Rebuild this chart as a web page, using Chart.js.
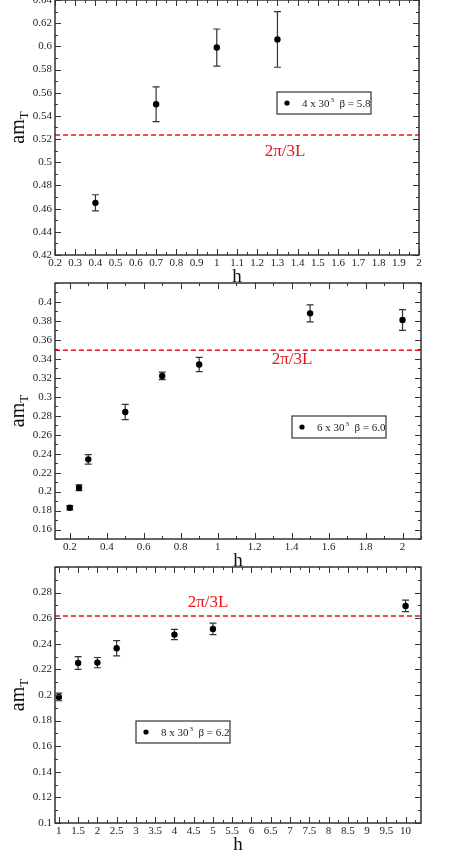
<!DOCTYPE html>
<html>
<head>
<meta charset="utf-8">
<script src="https://cdn.jsdelivr.net/npm/chart.js@4/dist/chart.umd.min.js"></script>
<style>
  body { margin: 0; background: #fff; width: 474px; height: 867px; overflow: hidden; position: relative; }
  canvas { position: absolute; left: 0; }
</style>
</head>
<body>
<canvas id="c1"></canvas>
<canvas id="c2"></canvas>
<canvas id="c3"></canvas>
<script>
// panel 1: 4 x 30^3, beta = 5.8
const h1 = [0.4, 0.7, 1.0, 1.3];
const am1 = [0.465, 0.550, 0.599, 0.606];
const err1 = [0.007, 0.015, 0.016, 0.024];
// panel 2: 6 x 30^3, beta = 6.0
const h2 = [0.2, 0.25, 0.3, 0.5, 0.7, 0.9, 1.5, 2.0];
const am2 = [0.183, 0.204, 0.234, 0.284, 0.322, 0.334, 0.388, 0.381];
const err2 = [0.0023, 0.003, 0.005, 0.008, 0.004, 0.0075, 0.009, 0.011];
// panel 3: 8 x 30^3, beta = 6.2
const h3 = [1, 1.5, 2, 2.5, 4, 5, 10];
const am3 = [0.1985, 0.225, 0.2253, 0.2365, 0.2472, 0.2516, 0.2696];
const err3 = [0.003, 0.005, 0.004, 0.006, 0.004, 0.0045, 0.0045];

// 2pi/3L lines
const limits = [0.5236, 0.3491, 0.2618];
const latticeLabels = ['4 x 30', '6 x 30', '8 x 30'];
const betaLabels = ['\u03b2 = 5.8', '\u03b2 = 6.0', '\u03b2 = 6.2'];

// tick labels
const xTicks1 = [0.2, 0.3, 0.4, 0.5, 0.6, 0.7, 0.8, 0.9, 1, 1.1, 1.2, 1.3, 1.4, 1.5, 1.6, 1.7, 1.8, 1.9, 2];
const yTicks1 = [0.42, 0.44, 0.46, 0.48, 0.5, 0.52, 0.54, 0.56, 0.58, 0.6, 0.62, 0.64];
const xTicks2 = [0.2, 0.4, 0.6, 0.8, 1, 1.2, 1.4, 1.6, 1.8, 2];
const yTicks2 = [0.16, 0.18, 0.2, 0.22, 0.24, 0.26, 0.28, 0.3, 0.32, 0.34, 0.36, 0.38, 0.4];
const xTicks3 = [1, 1.5, 2, 2.5, 3, 3.5, 4, 4.5, 5, 5.5, 6, 6.5, 7, 7.5, 8, 8.5, 9, 9.5, 10];
const yTicks3 = [0.1, 0.12, 0.14, 0.16, 0.18, 0.2, 0.22, 0.24, 0.26, 0.28];

const SERIF = '"Liberation Serif", "DejaVu Serif", serif';
const INK = '#333';

const panels = [
  { id: 'c1', top: -20, plotH: 255, right: 419, xMin: 0.2, xMax: 2, yMin: 0.42, yMax: 0.64,
    xTicks: xTicks1, yTicks: yTicks1, xMinor: 0.05, yMinor: 0.01,
    h: h1, am: am1, err: err1, limit: limits[0], lattice: latticeLabels[0], beta: betaLabels[0],
    leg: { x: 222, y: 92 }, lab: { x: 230, y: 152 } },
  { id: 'c2', top: 263, plotH: 256, right: 421, xMin: 0.12, xMax: 2.1, yMin: 0.15, yMax: 0.42,
    xTicks: xTicks2, yTicks: yTicks2, xMinor: 0.1, yMinor: 0.01,
    h: h2, am: am2, err: err2, limit: limits[1], lattice: latticeLabels[1], beta: betaLabels[1],
    leg: { x: 237, y: 133 }, lab: { x: 237, y: 77 } },
  { id: 'c3', top: 547, plotH: 256, right: 421, xMin: 0.9, xMax: 10.4, yMin: 0.1, yMax: 0.3,
    xTicks: xTicks3, yTicks: yTicks3, xMinor: 0.25, yMinor: 0.01,
    h: h3, am: am3, err: err3, limit: limits[2], lattice: latticeLabels[2], beta: betaLabels[2],
    leg: { x: 81, y: 154 }, lab: { x: 153, y: 36 } }
];

function minorValues(min, max, step) {
  const out = [];
  for (let i = Math.ceil(min / step - 1e-9); i * step <= max + 1e-9; i++) out.push(i * step);
  return out;
}

// error bars under the points
const errorBars = {
  id: 'errorBars',
  beforeDatasetsDraw(chart) {
    const p = chart.options.panel;
    const { ctx, scales: { x, y } } = chart;
    ctx.save();
    ctx.strokeStyle = INK;
    ctx.lineWidth = 1.2;
    p.h.forEach((hv, i) => {
      const px = x.getPixelForValue(hv);
      const lo = y.getPixelForValue(p.am[i] - p.err[i]);
      const hi = y.getPixelForValue(p.am[i] + p.err[i]);
      ctx.beginPath();
      ctx.moveTo(px, lo); ctx.lineTo(px, hi);
      ctx.moveTo(px - 3.5, lo); ctx.lineTo(px + 3.5, lo);
      ctx.moveTo(px - 3.5, hi); ctx.lineTo(px + 3.5, hi);
      ctx.stroke();
    });
    ctx.restore();
  }
};

// frame, inward ticks, legend box, labels
const decor = {
  id: 'decor',
  afterDraw(chart) {
    const p = chart.options.panel;
    const { ctx, chartArea: a, scales: { x, y } } = chart;
    ctx.save();
    ctx.strokeStyle = INK;
    ctx.lineWidth = 1.5;
    ctx.strokeRect(a.left, a.top, a.right - a.left, a.bottom - a.top);

    ctx.lineWidth = 1;
    ctx.beginPath();
    minorValues(p.xMin, p.xMax, p.xMinor).forEach(v => {
      const major = p.xTicks.some(t => Math.abs(t - v) < 1e-6);
      const len = major ? 6 : 3;
      const px = Math.round(x.getPixelForValue(v)) + 0.5;
      ctx.moveTo(px, a.bottom); ctx.lineTo(px, a.bottom - len);
      ctx.moveTo(px, a.top); ctx.lineTo(px, a.top + len);
    });
    minorValues(p.yMin, p.yMax, p.yMinor).forEach(v => {
      const major = p.yTicks.some(t => Math.abs(t - v) < 1e-6);
      const len = major ? 6 : 3;
      const py = Math.round(y.getPixelForValue(v)) + 0.5;
      ctx.moveTo(a.left, py); ctx.lineTo(a.left + len, py);
      ctx.moveTo(a.right, py); ctx.lineTo(a.right - len, py);
    });
    ctx.stroke();

    // legend
    const lx = a.left + p.leg.x, ly = a.top + p.leg.y, bw = 94, bh = 22;
    ctx.fillStyle = '#fff';
    ctx.fillRect(lx, ly, bw, bh);
    ctx.strokeStyle = INK;
    ctx.lineWidth = 1.2;
    ctx.strokeRect(lx, ly, bw, bh);
    ctx.fillStyle = '#000';
    ctx.beginPath();
    ctx.arc(lx + 10, ly + bh / 2, 2.6, 0, Math.PI * 2);
    ctx.fill();
    ctx.fillStyle = '#222';
    ctx.textBaseline = 'alphabetic';
    ctx.textAlign = 'left';
    ctx.font = '11px ' + SERIF;
    let tx = lx + 25;
    const base = ly + bh / 2 + 4;
    ctx.fillText(p.lattice, tx, base);
    tx += ctx.measureText(p.lattice).width + 1;
    ctx.font = '7px ' + SERIF;
    ctx.fillText('3', tx, base - 5);
    tx += 9;
    ctx.font = '11px ' + SERIF;
    ctx.fillText(p.beta, tx, base);

    // 2pi/3L label
    ctx.fillStyle = '#e8141c';
    ctx.font = '17px ' + SERIF;
    ctx.textAlign = 'center';
    ctx.textBaseline = 'middle';
    ctx.fillText('2\u03c0/3L', a.left + p.lab.x, a.top + p.lab.y);

    // y axis title am_T
    ctx.fillStyle = '#111';
    ctx.textAlign = 'left';
    ctx.textBaseline = 'alphabetic';
    ctx.font = '20px ' + SERIF;
    const wAm = ctx.measureText('am').width;
    ctx.font = '13px ' + SERIF;
    const wT = ctx.measureText('T').width;
    ctx.translate(24, (a.top + a.bottom) / 2 + (wAm + wT) / 2);
    ctx.rotate(-Math.PI / 2);
    ctx.font = '20px ' + SERIF;
    ctx.fillText('am', 0, 0);
    ctx.font = '13px ' + SERIF;
    ctx.fillText('T', wAm, 4);
    ctx.restore();
  }
};

const fmt = v => String(+Number(v).toFixed(3));

panels.forEach(p => {
  const cv = document.getElementById(p.id);
  const H = 20 + p.plotH + 35;
  cv.width = 474; cv.height = H;
  cv.style.top = p.top + 'px';
  new Chart(cv, {
    type: 'scatter',
    data: {
      datasets: [
        { data: p.h.map((v, i) => ({ x: v, y: p.am[i] })),
          pointRadius: 3.2, pointBackgroundColor: '#000', pointBorderColor: '#000', pointBorderWidth: 0, showLine: false },
        { data: [{ x: p.xMin, y: p.limit }, { x: p.xMax, y: p.limit }],
          showLine: true, pointRadius: 0, borderColor: '#e8141c', borderWidth: 1.5, borderDash: [5, 3] }
      ]
    },
    options: {
      panel: p,
      responsive: false,
      animation: false,
      events: [],
      layout: { padding: { top: 20, right: 474 - p.right, left: 0, bottom: 0 } },
      plugins: { legend: { display: false }, tooltip: { enabled: false } },
      scales: {
        x: {
          type: 'linear', min: p.xMin, max: p.xMax,
          afterBuildTicks: s => { s.ticks = p.xTicks.map(v => ({ value: v })); },
          afterFit: s => { s.height = 35; },
          grid: { display: false, drawTicks: false },
          border: { display: false },
          ticks: { autoSkip: false, maxRotation: 0, padding: 2, color: '#222',
                   font: { family: SERIF, size: 11 }, callback: fmt },
          title: { display: true, text: 'h', color: '#111', font: { family: SERIF, size: 19 },
                   padding: { top: 0, bottom: 2 } }
        },
        y: {
          type: 'linear', min: p.yMin, max: p.yMax,
          afterBuildTicks: s => { s.ticks = p.yTicks.map(v => ({ value: v })); },
          afterFit: s => { s.width = 55; },
          grid: { display: false, drawTicks: false },
          border: { display: false },
          ticks: { autoSkip: false, padding: 3, color: '#222',
                   font: { family: SERIF, size: 11 }, callback: fmt }
        }
      }
    },
    plugins: [errorBars, decor]
  });
});
</script>
</body>
</html>
